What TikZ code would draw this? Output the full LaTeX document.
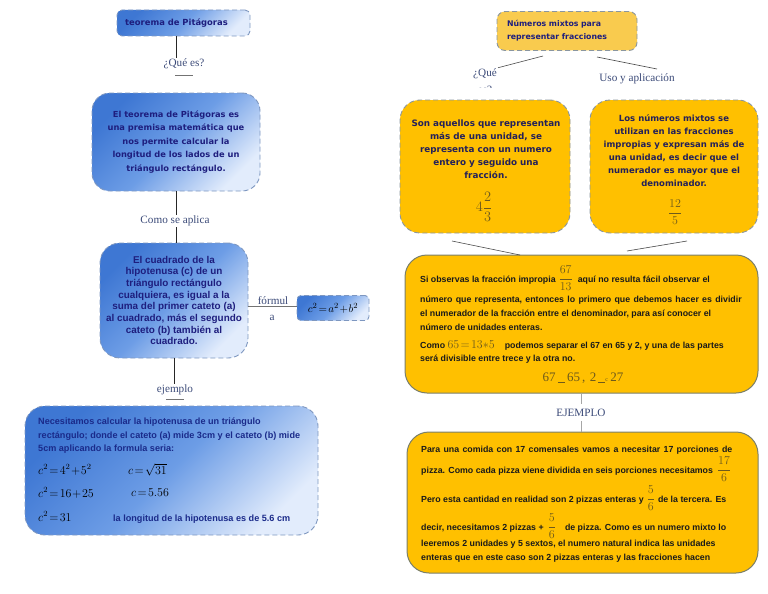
\documentclass[tikz,border=0pt]{standalone}
\usepackage{amsmath}
\usepackage{fontspec}
\setmainfont{Liberation Serif}
\newfontfamily\dvsfam{DejaVu Sans}
\newfontfamily\lsfam{Liberation Sans}
\usetikzlibrary{calc}
\definecolor{bdark}{HTML}{3E77D3}
\definecolor{bmid}{HTML}{6D9DE6}
\definecolor{blight}{HTML}{E2ECFC}
\definecolor{bborder}{HTML}{7E97C0}
\definecolor{navy}{HTML}{1E1E7E}
\definecolor{bnavy}{HTML}{1A2A8A}
\definecolor{orng}{HTML}{FFC000}
\definecolor{lorng}{HTML}{F9CB4E}
\definecolor{oborder}{HTML}{8A96A0}
\definecolor{gborder}{HTML}{7A7F6A}
\definecolor{lblc}{HTML}{3B4A78}
\definecolor{mathbr}{HTML}{6E5A1C}
\definecolor{otext}{HTML}{23205A}
\definecolor{dtext}{HTML}{1A1A1A}
\tikzset{
  bluebox/.style={draw=bborder, line width=0.9pt, dash pattern=on 5pt off 3pt,
    top color=bdark, bottom color=blight, middle color=bmid, shading angle=45, inner sep=0pt},
  orangebox/.style={draw=oborder, line width=0.9pt, dash pattern=on 5pt off 3pt,
    fill=orng, inner sep=0pt},
  solidbox/.style={draw=gborder, line width=1pt, fill=orng, inner sep=0pt},
  lbl/.style={font=\fontsize{11.2}{12}\selectfont, text=lblc, inner sep=1pt},
  conn/.style={draw=black!85, line width=0.8pt},
  thin conn/.style={draw=black!70, line width=0.6pt},
  stub/.style={draw=black!55, line width=0.6pt},
  lnb/.style={anchor=base west, inner sep=0pt, text=bnavy,
    font=\lsfam\bfseries\fontsize{9.1}{10}\selectfont},
  lno/.style={anchor=base west, inner sep=0pt, text=dtext,
    font=\lsfam\bfseries\fontsize{8.8}{10}\selectfont},
  mth/.style={anchor=base west, inner sep=0pt, text=black,
    font=\fontsize{12}{14}\selectfont},
}
\newcommand{\omath}[1]{{\color{mathbr}\fontsize{13}{13}\selectfont$#1$}}
\begin{document}
\begin{tikzpicture}[x=1pt,y=-1pt]
\useasboundingbox (0,0) rectangle (768,594);
% ---------- left column ----------
\node[bluebox, rounded corners=5pt, minimum width=133pt, minimum height=26pt] (t1) at (183.5,23) {};
\node[inner sep=0pt, text=navy, font=\dvsfam\bfseries\fontsize{8.4}{10}\selectfont] (t1t) at (176.5,23) {teorema de Pitágoras};
\node[lbl] (q1) at (184,64) {¿Qué es?};
\node[bluebox, rounded corners=18pt, minimum width=168pt, minimum height=98pt,
  align=center, text=navy, font=\dvsfam\bfseries\fontsize{8.3}{13.5}\selectfont] (b2) at (176,142)
  {El teorema de Pitágoras es\\una premisa matemática que\\nos permite calcular la\\longitud de los lados de un\\triángulo rectángulo.};
\node[lbl] (q2) at (175,221) {Como se aplica};
\node[bluebox, rounded corners=20pt, minimum width=148pt, minimum height=115pt,
  align=center, text=navy, font=\lsfam\bfseries\fontsize{9.9}{11.7}\selectfont] (b3) at (174,300.5)
  {El cuadrado de la\\hipotenusa (c) de un\\triángulo rectángulo\\cualquiera, es igual a la\\suma del primer cateto (a)\\al cuadrado, más el segundo\\cateto (b) también al\\cuadrado.};
\node[lbl] (fl1) at (273,301) {fórmul};
\node[lbl] (fl2) at (272,318) {a};
\node[bluebox, rounded corners=4pt, minimum width=72pt, minimum height=25pt,
  font=\fontsize{11}{12}\selectfont] (fb) at (333,308) {$c^2\!=\!a^2\!+\!b^2$};
\node[lbl] (ej1) at (175,390) {ejemplo};
\node[bluebox, rounded corners=20pt, minimum width=293pt, minimum height=129pt] (b4) at (171.5,470.5) {};
\node[lnb] (l41) at (38,424) {Necesitamos calcular la hipotenusa de un triángulo};
\node[lnb] (l42) at (38,438) {rectángulo; donde el cateto (a) mide 3cm y el cateto (b) mide};
\node[lnb] (l43) at (38,451.5) {5cm aplicando la formula seria:};
\node[mth] (m1) at (38,474) {$c^2\!=\!4^2\!+\!5^2$};
\node[mth] (m2) at (128,474) {$c\!=\!\sqrt{31}$};
\node[mth] (m3) at (38,497) {$c^2\!=\!16\!+\!25$};
\node[mth] (m4) at (131,496) {$c\!=\!5.56$};
\node[mth] (m5) at (38,521) {$c^2\!=\!31$};
\node[lnb] (l44) at (113,521) {la longitud de la hipotenusa es de 5.6 cm};
% ---------- right column ----------
\node[draw=oborder, line width=0.9pt, dash pattern=on 5pt off 3pt, fill=lorng,
  rounded corners=8pt, minimum height=39pt, text width=120pt, inner xsep=10pt, inner ysep=0pt,
  align=left, text=navy, font=\dvsfam\bfseries\fontsize{7.8}{13}\selectfont] (nm) at (567,31)
  {Números mixtos para\\representar fracciones};
\node[lbl] (q3) at (485,74) {¿Qué};
\begin{scope}
  \clip (470,82) rectangle (500,87.5);
  \node[lbl] (q3b) at (485,90) {es?};
\end{scope}
\node[lbl] (q4) at (637,79) {Uso y aplicación};
\node[orangebox, rounded corners=20pt, minimum width=170pt, minimum height=133pt] (b5) at (485,166.5) {};
\node[align=center, inner sep=0pt, text=otext, font=\dvsfam\bfseries\fontsize{8.8}{13}\selectfont] (b5t) at (486,149)
  {Son aquellos que representan\\más de una unidad, se\\representa con un numero\\entero y seguido una\\fracción.};
\node[inner sep=0pt, text=mathbr, font=\fontsize{14}{14}\selectfont] (b5f) at (484,207) {$4\dfrac{2}{3}$};
\node[orangebox, rounded corners=20pt, minimum width=168pt, minimum height=133pt] (b6) at (674,166.5) {};
\node[align=center, inner sep=0pt, text=otext, font=\dvsfam\bfseries\fontsize{8.5}{13}\selectfont] (b6t) at (674,150.5)
  {Los números mixtos se\\utilizan en las fracciones\\impropias y expresan más de\\una unidad, es decir que el\\numerador es mayor que el\\denominador.};
\node[inner sep=0pt, text=mathbr, font=\fontsize{13}{13}\selectfont] (b6f) at (675,212) {$\dfrac{12}{5}$};
\node[solidbox, rounded corners=22pt, minimum width=353pt, minimum height=138pt] (b7) at (581.5,324) {};
\node[lno] (l71) at (420,282) {Si observas la fracción impropia\hspace{3pt}\omath{\dfrac{67}{13}}\hspace{5pt}aquí no resulta fácil observar el};
\node[lno] (l72) at (420,302) {\spaceskip=3.3pt número que representa, entonces lo primero que debemos hacer es dividir};
\node[lno] (l73) at (420,316) {el numerador de la fracción entre el denominador, para así conocer el};
\node[lno] (l74) at (420,330) {número de unidades enteras.};
\node[lno] (l75) at (420,348) {Como \omath{65\!=\!13{*}5}\hspace{10pt}podemos separar el 67 en 65 y 2, y una de las partes};
\node[lno] (l76) at (420,361) {será divisible entre trece y la otra no.};
\node[inner sep=0pt, text=mathbr, font=\fontsize{13}{13}\selectfont] (l77) at (583,378)
  {67\,\rule[-1pt]{7pt}{0.7pt}\,65\,,\,\,2\,\rule[-1pt]{7pt}{0.7pt}{\fontsize{6}{6}\selectfont c}\,27};
\node[lbl] (ej2) at (581,413) {EJEMPLO};
\node[solidbox, rounded corners=22pt, minimum width=351pt, minimum height=141pt] (b8) at (582.5,502.5) {};
\node[lno] (l81) at (421,452) {\spaceskip=3.3pt Para una comida con 17 comensales vamos a necesitar 17 porciones de};
\node[lno] (l82) at (421,473) {pizza. Como cada pizza viene dividida en seis porciones necesitamos\hspace{4pt}\omath{\dfrac{17}{6}}};
\node[lno] (l83) at (421,502) {Pero esta cantidad en realidad son 2 pizzas enteras y\hspace{3pt}\omath{\dfrac{5}{6}}\hspace{3pt}de la tercera. Es};
\node[lno] (l84) at (421,530) {decir, necesitamos 2 pizzas +\hspace{4pt}\omath{\dfrac{5}{6}}\hspace{9pt}de pizza. Como es un numero mixto lo};
\node[lno] (l85) at (421,546) {leeremos 2 unidades y 5 sextos, el numero natural indica las unidades};
\node[lno] (l86) at (421,560) {enteras que en este caso son 2 pizzas enteras y las fracciones hacen};
% ---------- connectors ----------
\draw[conn] (t1.south -| b2.north) -- (q1.north -| b2.north);
\draw[stub] ($(q1.south)+(-9,5)$) -- ($(q1.south)+(9,5)$);
\draw[conn] (b2.south) -- (b2.south |- q2.north);
\draw[conn] (b2.south |- q2.south) -- (b2.south |- b3.north);
\draw[conn] (b3.south) -- (b3.south |- ej1.north);
\draw[stub] ($(ej1.south)+(-9,3)$) -- ($(ej1.south)+(9,3)$);
\draw[stub] (b3.east |- fl1.south) -- (fb.west |- fl1.south);
\coordinate (r1) at (543,56);
\draw[thin conn] (r1) -- (q3.north east);
\coordinate (r2) at (597,57);
\coordinate (r3) at (657,69);
\draw[thin conn] (r2) -- (r3);
\coordinate (r4) at (452,241);
\coordinate (r5) at (520,255);
\draw[thin conn] (r4) -- (r5);
\coordinate (r6) at (687,241);
\coordinate (r7) at (627,251);
\draw[thin conn] (r6) -- (r7);
\draw[stub, draw=black!35] (b7.south -| ej2.north) -- ($(ej2.north)+(0,-4)$);
\draw[stub, draw=black!35] ($(ej2.south)+(0,3)$) -- (b8.north -| ej2.south);
\end{tikzpicture}
\end{document}
